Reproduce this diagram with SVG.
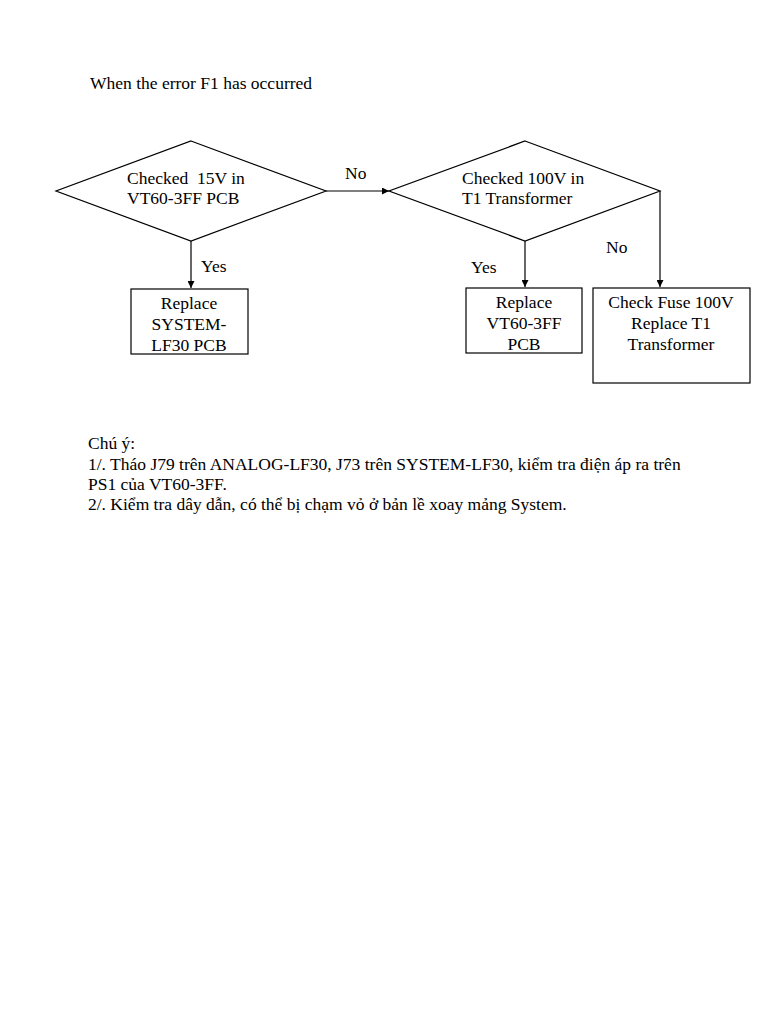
<svg xmlns="http://www.w3.org/2000/svg" width="768" height="1024" viewBox="0 0 768 1024">
<style>
text{font-family:"Liberation Serif","Times New Roman",serif;font-size:17.5px;fill:#000}
.c{text-anchor:middle}
.s{fill:#fff;stroke:#000;stroke-width:1.2}
.l{stroke:#000;stroke-width:1.2;fill:none}
</style>
<defs>
<marker id="a" viewBox="0 0 10 10" refX="10" refY="5" markerWidth="7" markerHeight="7" markerUnits="userSpaceOnUse" orient="auto"><path d="M0,0L10,5L0,10z" fill="#000"/></marker>
</defs>
<rect width="768" height="1024" fill="#fff"/>
<text x="90" y="89">When the error F1 has occurred</text>
<g id="connectors">
<line class="l" x1="326" y1="191" x2="389" y2="191" marker-end="url(#a)"/>
<line class="l" x1="191" y1="241" x2="191" y2="288" marker-end="url(#a)"/>
<line class="l" x1="525" y1="241" x2="525" y2="287" marker-end="url(#a)"/>
<line class="l" x1="660" y1="191" x2="660" y2="287" marker-end="url(#a)"/>
<text x="345" y="179">No</text>
<text x="201" y="272">Yes</text>
<text x="471" y="273">Yes</text>
<text x="606" y="253">No</text>
</g>
<g id="d1">
<polygon class="s" points="191,141 326,191 191,241 56,191"/>
<text x="127" y="184" xml:space="preserve">Checked  15V in</text>
<text x="127" y="204">VT60-3FF PCB</text>
</g>
<g id="d2">
<polygon class="s" points="525,141 660,191 525,241 389,191"/>
<text x="462" y="184">Checked 100V in</text>
<text x="462" y="204">T1 Transformer</text>
</g>
<g id="b1">
<rect class="s" x="131" y="289" width="117" height="65"/>
<text class="c" x="189" y="309">Replace</text>
<text class="c" x="189" y="330">SYSTEM-</text>
<text class="c" x="189" y="351">LF30 PCB</text>
</g>
<g id="b2">
<rect class="s" x="466" y="288" width="116" height="65"/>
<text class="c" x="524" y="308">Replace</text>
<text class="c" x="524" y="329">VT60-3FF</text>
<text class="c" x="524" y="350">PCB</text>
</g>
<g id="b3">
<rect class="s" x="593" y="288" width="157" height="95"/>
<text class="c" x="671" y="308">Check Fuse 100V</text>
<text class="c" x="671" y="329">Replace T1</text>
<text class="c" x="671" y="350">Transformer</text>
</g>
<g id="notes">
<text x="88" y="449">Chú ý:</text>
<text x="88" y="470">1/. Tháo J79 trên ANALOG-LF30, J73 trên SYSTEM-LF30, kiểm tra điện áp ra trên</text>
<text x="88" y="490">PS1 của VT60-3FF.</text>
<text x="88" y="510">2/. Kiểm tra dây dẫn, có thể bị chạm vỏ ở bản lề xoay mảng System.</text>
</g>
</svg>
